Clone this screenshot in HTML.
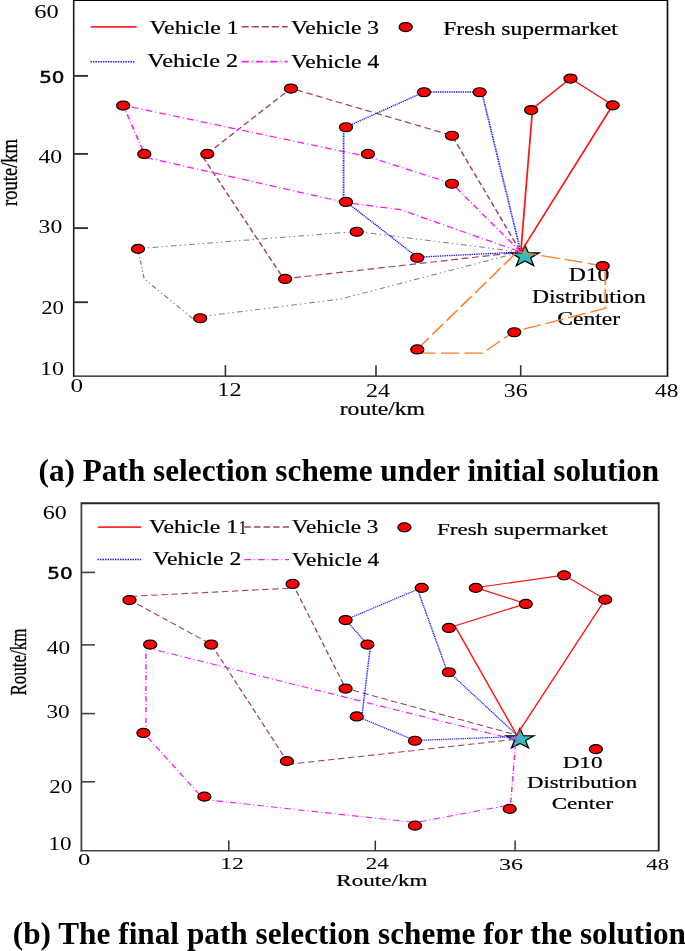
<!DOCTYPE html>
<html><head><meta charset="utf-8"><title>Path selection scheme</title>
<style>html,body{margin:0;padding:0;background:#fff}svg{display:block}</style></head>
<body><svg width="685" height="951" viewBox="0 0 685 951">
<rect width="685" height="951" fill="#fff"/>
<polygon points="525.0,245.3 528.4,252.9 538.9,253.0 530.6,257.9 533.6,265.6 525.0,261.0 516.4,265.6 519.4,257.9 511.1,253.0 521.6,252.9" fill="#33bdbd" stroke="#000" stroke-width="1.3" stroke-linejoin="miter"/>
<text x="568.65" y="280.6" font-size="18" font-family='"Liberation Serif", serif' font-weight="normal" fill="#000" textLength="40.73" lengthAdjust="spacingAndGlyphs" stroke="#000" stroke-width="0.22">D10</text>
<text x="531.95" y="302.6" font-size="18" font-family='"Liberation Serif", serif' font-weight="normal" fill="#000" textLength="113.93" lengthAdjust="spacingAndGlyphs" stroke="#000" stroke-width="0.22">Distribution</text>
<text x="557.36" y="324.7" font-size="18" font-family='"Liberation Serif", serif' font-weight="normal" fill="#000" textLength="62.73" lengthAdjust="spacingAndGlyphs" stroke="#000" stroke-width="0.22">Center</text>
<path transform="scale(1.34 1)" d="M388.66 252.0 L266.19 231.5 L102.99 248.6 L107.54 278.8 L143.66 318.3" fill="none" stroke="#7d7d7d" stroke-width="1.00" stroke-dasharray="4.2 2.45 1.05 2.45 1.05 2.45"/>
<path transform="scale(1.34 1)" d="M150.00 316.6 L253.73 299.2 L388.66 252.0" fill="none" stroke="#7d7d7d" stroke-width="1.00" stroke-dasharray="4.2 2.45 1.05 2.45 1.05 2.45"/>
<path transform="scale(1.34 1)" d="M388.66 252.0 L212.76 278.7" fill="none" stroke="#a0406e" stroke-width="1.18" stroke-dasharray="5.1 2.8"/>
<path transform="scale(1.34 1)" d="M151.49 157.0 L210.07 275.5" fill="none" stroke="#a0406e" stroke-width="1.18" stroke-dasharray="5.1 2.8"/>
<path transform="scale(1.34 1)" d="M154.70 153.7 L217.16 88.3 L337.31 135.5 L388.66 252.0" fill="none" stroke="#a0406e" stroke-width="1.18" stroke-dasharray="5.1 2.8"/>
<path transform="scale(1.34 1)" d="M388.66 252.0 L337.31 183.5 L274.63 156.7 L91.94 105.3 L107.69 153.7" fill="none" stroke="#ff19ff" stroke-width="1.25" stroke-dasharray="5.3 2.3 0.8 2.3"/>
<path transform="scale(1.34 1)" d="M108.96 157.5 L257.91 202.5 L298.88 209.7 L388.66 252.0" fill="none" stroke="#ff19ff" stroke-width="1.25" stroke-dasharray="5.3 2.3 0.8 2.3"/>
<path transform="scale(1.34 1)" d="M388.66 252.0 L311.34 257.2 L258.21 201.7" fill="none" stroke="#1414ff" stroke-width="1.30" stroke-dasharray="1.0 0.7"/>
<path transform="scale(1.34 1)" d="M256.42 201.7 L256.42 127.0" fill="none" stroke="#1414ff" stroke-width="1.30" stroke-dasharray="1.0 0.7"/>
<path transform="scale(1.34 1)" d="M258.21 127.0 L316.42 92.0 L357.99 92.0" fill="none" stroke="#1414ff" stroke-width="1.30" stroke-dasharray="1.0 0.7"/>
<path transform="scale(1.34 1)" d="M359.85 94.0 L388.66 252.0" fill="none" stroke="#1414ff" stroke-width="1.30" stroke-dasharray="1.0 0.7"/>
<path transform="scale(1.34 1)" d="M388.66 252.0 L397.31 110.5" fill="none" stroke="#ff1414" stroke-width="1.30"/>
<path transform="scale(1.34 1)" d="M396.42 109.8 L425.75 78.3 L457.24 105.1 L388.66 252.0" fill="none" stroke="#ff1414" stroke-width="1.30"/>
<path transform="scale(1.34 1)" d="M311.42 353.2 L360.00 353.2 L383.81 331.5 L451.72 308.4 L451.72 268.0 L449.78 265.8 L386.19 251.6 L311.42 349.2" fill="none" stroke="#ff7f27" stroke-width="1.30" stroke-dasharray="13.7 3.9"/>
<ellipse cx="123.2" cy="105.55" rx="6.55" ry="4.5" fill="#ff0000" stroke="#000" stroke-width="1.2"/>
<ellipse cx="144.3" cy="153.95" rx="6.55" ry="4.5" fill="#ff0000" stroke="#000" stroke-width="1.2"/>
<ellipse cx="207.3" cy="153.95" rx="6.55" ry="4.5" fill="#ff0000" stroke="#000" stroke-width="1.2"/>
<ellipse cx="291.0" cy="88.55" rx="6.55" ry="4.5" fill="#ff0000" stroke="#000" stroke-width="1.2"/>
<ellipse cx="424.0" cy="92.25" rx="6.55" ry="4.5" fill="#ff0000" stroke="#000" stroke-width="1.2"/>
<ellipse cx="479.7" cy="92.25" rx="6.55" ry="4.5" fill="#ff0000" stroke="#000" stroke-width="1.2"/>
<ellipse cx="346.0" cy="127.25" rx="6.55" ry="4.5" fill="#ff0000" stroke="#000" stroke-width="1.2"/>
<ellipse cx="368.0" cy="153.95" rx="6.55" ry="4.5" fill="#ff0000" stroke="#000" stroke-width="1.2"/>
<ellipse cx="452.0" cy="135.75" rx="6.55" ry="4.5" fill="#ff0000" stroke="#000" stroke-width="1.2"/>
<ellipse cx="452.0" cy="183.75" rx="6.55" ry="4.5" fill="#ff0000" stroke="#000" stroke-width="1.2"/>
<ellipse cx="346.0" cy="201.95" rx="6.55" ry="4.5" fill="#ff0000" stroke="#000" stroke-width="1.2"/>
<ellipse cx="356.7" cy="231.75" rx="6.55" ry="4.5" fill="#ff0000" stroke="#000" stroke-width="1.2"/>
<ellipse cx="417.2" cy="257.75" rx="6.55" ry="4.5" fill="#ff0000" stroke="#000" stroke-width="1.2"/>
<ellipse cx="285.1" cy="278.95" rx="6.55" ry="4.5" fill="#ff0000" stroke="#000" stroke-width="1.2"/>
<ellipse cx="138.0" cy="248.85" rx="6.55" ry="4.5" fill="#ff0000" stroke="#000" stroke-width="1.2"/>
<ellipse cx="200.2" cy="318.25" rx="6.55" ry="4.5" fill="#ff0000" stroke="#000" stroke-width="1.2"/>
<ellipse cx="531.2" cy="110.05" rx="6.55" ry="4.5" fill="#ff0000" stroke="#000" stroke-width="1.2"/>
<ellipse cx="570.5" cy="78.55" rx="6.55" ry="4.5" fill="#ff0000" stroke="#000" stroke-width="1.2"/>
<ellipse cx="612.7" cy="105.35" rx="6.55" ry="4.5" fill="#ff0000" stroke="#000" stroke-width="1.2"/>
<ellipse cx="602.7" cy="266.05" rx="6.55" ry="4.5" fill="#ff0000" stroke="#000" stroke-width="1.2"/>
<ellipse cx="514.3" cy="332.25" rx="6.55" ry="4.5" fill="#ff0000" stroke="#000" stroke-width="1.2"/>
<ellipse cx="417.3" cy="349.45" rx="6.55" ry="4.5" fill="#ff0000" stroke="#000" stroke-width="1.2"/>
<ellipse cx="405.7" cy="27.05" rx="6.55" ry="4.5" fill="#ff0000" stroke="#000" stroke-width="1.2"/>
<line x1="73.7" y1="0.0" x2="73.7" y2="376.8" stroke="#1a1a1a" stroke-width="1.6"/>
<line x1="72.9" y1="376.2" x2="668.3" y2="376.2" stroke="#111" stroke-width="1.3"/>
<line x1="667.5" y1="0.0" x2="667.5" y2="376.2" stroke="#111" stroke-width="1.7"/>
<line x1="73.7" y1="0.5" x2="667.5" y2="0.5" stroke="#000" stroke-width="1.1"/>
<line x1="73.7" y1="75.9" x2="88.0" y2="75.9" stroke="#333" stroke-width="1.9"/>
<line x1="73.7" y1="153.9" x2="88.0" y2="153.9" stroke="#333" stroke-width="1.9"/>
<line x1="73.7" y1="228.1" x2="88.0" y2="228.1" stroke="#333" stroke-width="1.9"/>
<line x1="73.7" y1="302.2" x2="88.0" y2="302.2" stroke="#333" stroke-width="1.9"/>
<line x1="225.4" y1="365.2" x2="225.4" y2="376.2" stroke="#333" stroke-width="1.6"/>
<line x1="376.0" y1="365.2" x2="376.0" y2="376.2" stroke="#333" stroke-width="1.6"/>
<line x1="520.7" y1="365.2" x2="520.7" y2="376.2" stroke="#333" stroke-width="1.6"/>
<line x1="90.7" y1="26.8" x2="136.7" y2="26.8" stroke="#ff2a2a" stroke-width="1.7"/>
<line x1="90.4" y1="61.7" x2="135.2" y2="61.7" stroke="#1a1aff" stroke-width="1.5" stroke-dasharray="1.5 1"/>
<line x1="241.7" y1="26.8" x2="287.7" y2="26.8" stroke="#a0406e" stroke-width="1.6" stroke-dasharray="7 3.07"/>
<line x1="241.7" y1="61.6" x2="287.7" y2="61.6" stroke="#ff19ff" stroke-width="1.55" stroke-dasharray="7 3.2 0.9 3.2"/>
<text x="149.56" y="33.6" font-size="18.2" font-family='"Liberation Serif", serif' font-weight="normal" fill="#000" textLength="89.19" lengthAdjust="spacingAndGlyphs" stroke="#000" stroke-width="0.22">Vehicle 1</text>
<text x="147.36" y="66.9" font-size="18.2" font-family='"Liberation Serif", serif' font-weight="normal" fill="#000" textLength="90.80" lengthAdjust="spacingAndGlyphs" stroke="#000" stroke-width="0.22">Vehicle 2</text>
<text x="290.96" y="33.6" font-size="18.2" font-family='"Liberation Serif", serif' font-weight="normal" fill="#000" textLength="88.10" lengthAdjust="spacingAndGlyphs" stroke="#000" stroke-width="0.22">Vehicle 3</text>
<text x="290.96" y="67.9" font-size="18.2" font-family='"Liberation Serif", serif' font-weight="normal" fill="#000" textLength="88.22" lengthAdjust="spacingAndGlyphs" stroke="#000" stroke-width="0.22">Vehicle 4</text>
<text x="443.15" y="34.8" font-size="18" font-family='"Liberation Serif", serif' font-weight="normal" fill="#000" textLength="174.66" lengthAdjust="spacingAndGlyphs" stroke="#000" stroke-width="0.22">Fresh supermarket</text>
<text x="34.26" y="18.4" font-size="19.5" font-family='"Liberation Serif", serif' font-weight="normal" fill="#000" textLength="24.46" lengthAdjust="spacingAndGlyphs" >60</text>
<text x="39.16" y="82.8" font-size="16.2" font-family='"DejaVu Sans", "Liberation Sans", sans-serif' font-weight="normal" fill="#000" textLength="25.34" lengthAdjust="spacingAndGlyphs" stroke="#000" stroke-width="0.5">50</text>
<text x="38.42" y="163.3" font-size="19.5" font-family='"Liberation Serif", serif' font-weight="normal" fill="#000" textLength="23.77" lengthAdjust="spacingAndGlyphs" >40</text>
<text x="38.58" y="233.1" font-size="19.5" font-family='"Liberation Serif", serif' font-weight="normal" fill="#000" textLength="23.61" lengthAdjust="spacingAndGlyphs" >30</text>
<text x="41.23" y="314.1" font-size="19" font-family='"Liberation Serif", serif' font-weight="normal" fill="#000" textLength="22.72" lengthAdjust="spacingAndGlyphs" >20</text>
<text x="39.90" y="375.4" font-size="19.4" font-family='"Liberation Serif", serif' font-weight="normal" fill="#000" textLength="24.00" lengthAdjust="spacingAndGlyphs" >10</text>
<text x="70.56" y="391.8" font-size="18.7" font-family='"Liberation Serif", serif' font-weight="normal" fill="#000" textLength="12.59" lengthAdjust="spacingAndGlyphs" >0</text>
<text x="217.38" y="396.3" font-size="18.5" font-family='"Liberation Serif", serif' font-weight="normal" fill="#000" textLength="24.26" lengthAdjust="spacingAndGlyphs" >12</text>
<text x="365.98" y="396.6" font-size="18.5" font-family='"Liberation Serif", serif' font-weight="normal" fill="#000" textLength="23.98" lengthAdjust="spacingAndGlyphs" >24</text>
<text x="503.77" y="396.9" font-size="18.5" font-family='"Liberation Serif", serif' font-weight="normal" fill="#000" textLength="23.85" lengthAdjust="spacingAndGlyphs" >36</text>
<text x="655.03" y="396.9" font-size="18.5" font-family='"Liberation Serif", serif' font-weight="normal" fill="#000" textLength="23.34" lengthAdjust="spacingAndGlyphs" >48</text>
<text x="339.73" y="414.5" font-size="18" font-family='"Liberation Serif", serif' font-weight="normal" fill="#000" textLength="85.24" lengthAdjust="spacingAndGlyphs" stroke="#000" stroke-width="0.22">route/km</text>
<text transform="translate(16.5,206) rotate(-90)" font-size="23" font-family='"Liberation Serif", serif' textLength="67" lengthAdjust="spacingAndGlyphs" stroke="#000" stroke-width="0.35">route/km</text>
<text x="38.57" y="480.6" font-size="31" font-family='"Liberation Serif", serif' font-weight="bold" fill="#000" textLength="620.64" lengthAdjust="spacingAndGlyphs" >(a) Path selection scheme under initial solution</text>
<polygon points="520.0,728.4 523.4,735.7 533.8,735.9 525.5,740.5 528.5,747.9 520.0,743.5 511.5,747.9 514.5,740.5 506.2,735.9 516.6,735.7" fill="#33bdbd" stroke="#000" stroke-width="1.3" stroke-linejoin="miter"/>
<path transform="scale(1.28 1)" d="M402.03 739.4 L224.22 764.5 L224.14 760.9 L165.00 644.3 L101.17 599.8" fill="none" stroke="#a0406e" stroke-width="1.06" stroke-dasharray="5.1 2.8"/>
<path transform="scale(1.28 1)" d="M102.34 596.3 L226.56 588.2" fill="none" stroke="#a0406e" stroke-width="1.06" stroke-dasharray="5.1 2.8"/>
<path transform="scale(1.28 1)" d="M228.59 583.7 L270.00 688.3 L403.67 735.0" fill="none" stroke="#a0406e" stroke-width="1.06" stroke-dasharray="5.1 2.8"/>
<path transform="scale(1.28 1)" d="M403.91 740.0 L114.06 647.5 L114.06 727.0 L112.03 732.7 L159.38 799.5 L324.61 822.5 L398.91 804.8 L403.20 735.8" fill="none" stroke="#ff19ff" stroke-width="1.12" stroke-dasharray="5.3 2.3 0.8 2.3"/>
<path transform="scale(1.28 1)" d="M401.56 736.7 L324.22 740.5 L278.67 716.2" fill="none" stroke="#1414ff" stroke-width="1.17" stroke-dasharray="1.0 0.7"/>
<path transform="scale(1.28 1)" d="M283.05 713.0 L289.22 648.0" fill="none" stroke="#1414ff" stroke-width="1.17" stroke-dasharray="1.0 0.7"/>
<path transform="scale(1.28 1)" d="M287.03 644.3 L270.00 619.8 L329.45 587.6" fill="none" stroke="#1414ff" stroke-width="1.17" stroke-dasharray="1.0 0.7"/>
<path transform="scale(1.28 1)" d="M326.95 592.0 L348.44 668.0" fill="none" stroke="#1414ff" stroke-width="1.17" stroke-dasharray="1.0 0.7"/>
<path transform="scale(1.28 1)" d="M350.70 672.0 L403.67 735.0" fill="none" stroke="#1414ff" stroke-width="1.17" stroke-dasharray="1.0 0.7"/>
<path transform="scale(1.28 1)" d="M403.67 735.0 L355.86 627.0" fill="none" stroke="#ff1414" stroke-width="1.17"/>
<path transform="scale(1.28 1)" d="M350.70 627.7 L410.78 603.7 L371.72 587.6 L440.70 575.1 L472.81 599.4 L403.67 735.0" fill="none" stroke="#ff1414" stroke-width="1.17"/>
<ellipse cx="129.5" cy="600.05" rx="6.55" ry="4.5" fill="#ff0000" stroke="#000" stroke-width="1.2"/>
<ellipse cx="150.2" cy="644.55" rx="6.55" ry="4.5" fill="#ff0000" stroke="#000" stroke-width="1.2"/>
<ellipse cx="211.2" cy="644.55" rx="6.55" ry="4.5" fill="#ff0000" stroke="#000" stroke-width="1.2"/>
<ellipse cx="292.6" cy="583.95" rx="6.55" ry="4.5" fill="#ff0000" stroke="#000" stroke-width="1.2"/>
<ellipse cx="345.6" cy="620.05" rx="6.55" ry="4.5" fill="#ff0000" stroke="#000" stroke-width="1.2"/>
<ellipse cx="367.4" cy="644.55" rx="6.55" ry="4.5" fill="#ff0000" stroke="#000" stroke-width="1.2"/>
<ellipse cx="421.7" cy="587.85" rx="6.55" ry="4.5" fill="#ff0000" stroke="#000" stroke-width="1.2"/>
<ellipse cx="448.8" cy="672.25" rx="6.55" ry="4.5" fill="#ff0000" stroke="#000" stroke-width="1.2"/>
<ellipse cx="345.6" cy="688.55" rx="6.55" ry="4.5" fill="#ff0000" stroke="#000" stroke-width="1.2"/>
<ellipse cx="356.7" cy="716.45" rx="6.55" ry="4.5" fill="#ff0000" stroke="#000" stroke-width="1.2"/>
<ellipse cx="415.0" cy="740.75" rx="6.55" ry="4.5" fill="#ff0000" stroke="#000" stroke-width="1.2"/>
<ellipse cx="286.9" cy="761.15" rx="6.55" ry="4.5" fill="#ff0000" stroke="#000" stroke-width="1.2"/>
<ellipse cx="143.4" cy="732.95" rx="6.55" ry="4.5" fill="#ff0000" stroke="#000" stroke-width="1.2"/>
<ellipse cx="204.4" cy="796.65" rx="6.55" ry="4.5" fill="#ff0000" stroke="#000" stroke-width="1.2"/>
<ellipse cx="415.0" cy="825.65" rx="6.55" ry="4.5" fill="#ff0000" stroke="#000" stroke-width="1.2"/>
<ellipse cx="509.7" cy="808.85" rx="6.55" ry="4.5" fill="#ff0000" stroke="#000" stroke-width="1.2"/>
<ellipse cx="448.9" cy="627.95" rx="6.55" ry="4.5" fill="#ff0000" stroke="#000" stroke-width="1.2"/>
<ellipse cx="525.8" cy="603.95" rx="6.55" ry="4.5" fill="#ff0000" stroke="#000" stroke-width="1.2"/>
<ellipse cx="475.8" cy="587.85" rx="6.55" ry="4.5" fill="#ff0000" stroke="#000" stroke-width="1.2"/>
<ellipse cx="564.1" cy="575.35" rx="6.55" ry="4.5" fill="#ff0000" stroke="#000" stroke-width="1.2"/>
<ellipse cx="605.2" cy="599.65" rx="6.55" ry="4.5" fill="#ff0000" stroke="#000" stroke-width="1.2"/>
<ellipse cx="595.9" cy="749.15" rx="6.55" ry="4.5" fill="#ff0000" stroke="#000" stroke-width="1.2"/>
<ellipse cx="404.4" cy="527.35" rx="6.55" ry="4.5" fill="#ff0000" stroke="#000" stroke-width="1.2"/>
<line x1="81.4" y1="502.3" x2="81.4" y2="851.4" stroke="#444" stroke-width="1.8"/>
<line x1="80.5" y1="850.7" x2="659.6" y2="850.7" stroke="#444" stroke-width="1.5"/>
<line x1="658.7" y1="502.3" x2="658.7" y2="850.7" stroke="#262626" stroke-width="1.9"/>
<line x1="81.4" y1="503.2" x2="658.7" y2="503.2" stroke="#262626" stroke-width="1.9"/>
<line x1="81.4" y1="572.4" x2="95.0" y2="572.4" stroke="#444" stroke-width="1.6"/>
<line x1="81.4" y1="644.9" x2="95.0" y2="644.9" stroke="#444" stroke-width="1.6"/>
<line x1="81.4" y1="713.6" x2="95.0" y2="713.6" stroke="#444" stroke-width="1.6"/>
<line x1="81.4" y1="781.8" x2="95.0" y2="781.8" stroke="#444" stroke-width="1.6"/>
<line x1="228.8" y1="840.6" x2="228.8" y2="850.7" stroke="#333" stroke-width="1.5"/>
<line x1="375.3" y1="840.6" x2="375.3" y2="850.7" stroke="#333" stroke-width="1.5"/>
<line x1="515.1" y1="840.6" x2="515.1" y2="850.7" stroke="#333" stroke-width="1.5"/>
<line x1="97.8" y1="527.1" x2="141.3" y2="527.1" stroke="#ff2a2a" stroke-width="1.6"/>
<line x1="97.5" y1="559.5" x2="141.3" y2="559.5" stroke="#1a1aff" stroke-width="1.4" stroke-dasharray="1.5 1"/>
<line x1="244.3" y1="527.0" x2="289" y2="527.0" stroke="#a0406e" stroke-width="1.3" stroke-dasharray="6.4 3.23"/>
<line x1="244.3" y1="559.5" x2="289" y2="559.5" stroke="#ff19ff" stroke-width="1.25" stroke-dasharray="6.8 2.9 0.9 3"/>
<text x="149.06" y="533.4" font-size="18" font-family='"Liberation Serif", serif' font-weight="normal" fill="#000" textLength="88.99" lengthAdjust="spacingAndGlyphs" stroke="#000" stroke-width="0.22">Vehicle 1</text>
<text x="238.44" y="533.6" font-size="18.8" font-family='"Liberation Serif", serif' font-weight="normal" fill="#000" textLength="8.37" lengthAdjust="spacingAndGlyphs" >1</text>
<text x="152.66" y="564.9" font-size="18" font-family='"Liberation Serif", serif' font-weight="normal" fill="#000" textLength="88.67" lengthAdjust="spacingAndGlyphs" stroke="#000" stroke-width="0.22">Vehicle 2</text>
<text x="291.77" y="532.7" font-size="18" font-family='"Liberation Serif", serif' font-weight="normal" fill="#000" textLength="86.68" lengthAdjust="spacingAndGlyphs" stroke="#000" stroke-width="0.22">Vehicle 3</text>
<text x="291.77" y="565.8" font-size="18" font-family='"Liberation Serif", serif' font-weight="normal" fill="#000" textLength="87.51" lengthAdjust="spacingAndGlyphs" stroke="#000" stroke-width="0.22">Vehicle 4</text>
<text x="436.97" y="534.5" font-size="17.5" font-family='"Liberation Serif", serif' font-weight="normal" fill="#000" textLength="170.74" lengthAdjust="spacingAndGlyphs" stroke="#000" stroke-width="0.22">Fresh supermarket</text>
<text x="562.66" y="768.1" font-size="17.4" font-family='"Liberation Serif", serif' font-weight="normal" fill="#000" textLength="39.79" lengthAdjust="spacingAndGlyphs" stroke="#000" stroke-width="0.22">D10</text>
<text x="526.97" y="788.4" font-size="17.4" font-family='"Liberation Serif", serif' font-weight="normal" fill="#000" textLength="110.09" lengthAdjust="spacingAndGlyphs" stroke="#000" stroke-width="0.22">Distribution</text>
<text x="551.68" y="808.7" font-size="17" font-family='"Liberation Serif", serif' font-weight="normal" fill="#000" textLength="61.51" lengthAdjust="spacingAndGlyphs" stroke="#000" stroke-width="0.22">Center</text>
<text x="42.68" y="519.3" font-size="18" font-family='"Liberation Serif", serif' font-weight="normal" fill="#000" textLength="24.02" lengthAdjust="spacingAndGlyphs" >60</text>
<text x="47.26" y="579.2" font-size="15.4" font-family='"DejaVu Sans", "Liberation Sans", sans-serif' font-weight="normal" fill="#000" textLength="25.34" lengthAdjust="spacingAndGlyphs" stroke="#000" stroke-width="0.5">50</text>
<text x="46.73" y="654.0" font-size="18.5" font-family='"Liberation Serif", serif' font-weight="normal" fill="#000" textLength="23.34" lengthAdjust="spacingAndGlyphs" >40</text>
<text x="46.49" y="717.6" font-size="18" font-family='"Liberation Serif", serif' font-weight="normal" fill="#000" textLength="23.28" lengthAdjust="spacingAndGlyphs" >30</text>
<text x="49.32" y="793.2" font-size="18.3" font-family='"Liberation Serif", serif' font-weight="normal" fill="#000" textLength="23.04" lengthAdjust="spacingAndGlyphs" >20</text>
<text x="48.58" y="850.0" font-size="17.8" font-family='"Liberation Serif", serif' font-weight="normal" fill="#000" textLength="23.09" lengthAdjust="spacingAndGlyphs" >10</text>
<text x="78.07" y="865.2" font-size="17.3" font-family='"Liberation Serif", serif' font-weight="normal" fill="#000" textLength="12.35" lengthAdjust="spacingAndGlyphs" >0</text>
<text x="220.22" y="869.2" font-size="17.5" font-family='"Liberation Serif", serif' font-weight="normal" fill="#000" textLength="23.79" lengthAdjust="spacingAndGlyphs" >12</text>
<text x="365.72" y="869.4" font-size="17.5" font-family='"Liberation Serif", serif' font-weight="normal" fill="#000" textLength="23.13" lengthAdjust="spacingAndGlyphs" >24</text>
<text x="498.96" y="870.1" font-size="17.5" font-family='"Liberation Serif", serif' font-weight="normal" fill="#000" textLength="24.07" lengthAdjust="spacingAndGlyphs" >36</text>
<text x="646.24" y="870.1" font-size="17.5" font-family='"Liberation Serif", serif' font-weight="normal" fill="#000" textLength="22.81" lengthAdjust="spacingAndGlyphs" >48</text>
<text x="336.37" y="886.2" font-size="17" font-family='"Liberation Serif", serif' font-weight="normal" fill="#000" textLength="91.07" lengthAdjust="spacingAndGlyphs" stroke="#000" stroke-width="0.22">Route/km</text>
<text transform="translate(25.9,695.6) rotate(-90)" font-size="23" font-family='"Liberation Serif", serif' textLength="67.1" lengthAdjust="spacingAndGlyphs" stroke="#000" stroke-width="0.35">Route/km</text>
<text x="12.77" y="943.6" font-size="31.4" font-family='"Liberation Serif", serif' font-weight="bold" fill="#000" textLength="673.17" lengthAdjust="spacingAndGlyphs" >(b) The final path selection scheme for the solution</text>
</svg></body></html>
